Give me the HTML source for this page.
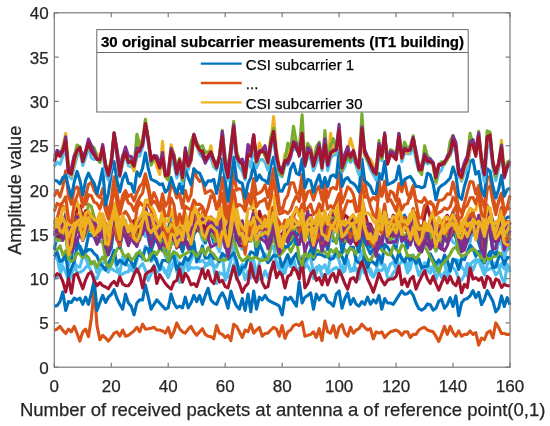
<!DOCTYPE html>
<html><head><meta charset="utf-8"><style>
html,body{margin:0;padding:0;background:#fff;}
svg{display:block;filter:blur(0.3px);}
text{font-family:"Liberation Sans",Arial,sans-serif;fill:#262626;stroke:#262626;stroke-width:0.25px;}
</style></head><body>
<svg width="550" height="426" viewBox="0 0 550 426">
<rect x="0" y="0" width="550" height="426" fill="#fff"/>
<g fill="none" stroke-width="3.10" stroke-linejoin="round" stroke-linecap="butt">
<polyline stroke="#D95319" points="54.3,330.4 57.1,329.1 60.0,326.4 62.8,330.4 65.7,333.5 68.5,329.1 71.4,331.8 74.2,326.4 77.1,333.5 79.9,341.1 82.8,331.8 85.6,329.1 88.5,336.6 91.3,318.5 94.2,289.2 97.0,325.6 99.9,339.7 102.7,335.3 105.6,338.0 108.4,341.1 111.3,337.5 114.1,333.1 117.0,331.8 119.8,336.2 122.7,330.0 125.5,336.2 128.4,335.3 131.2,333.1 134.0,330.9 136.9,327.3 139.7,331.8 142.6,324.2 145.4,329.1 148.3,328.7 151.1,328.2 154.0,327.3 156.8,330.0 159.7,330.0 162.5,330.9 165.4,333.1 168.2,327.3 171.1,337.5 173.9,331.8 176.8,322.9 179.6,328.7 182.5,331.8 185.3,333.1 188.2,329.1 191.0,326.4 193.9,331.8 196.7,335.3 199.6,331.8 202.4,328.7 205.3,334.4 208.1,336.2 210.9,336.6 213.8,338.8 216.6,325.6 219.5,333.1 222.3,334.4 225.2,337.5 228.0,335.3 230.9,340.6 233.7,324.2 236.6,326.4 239.4,331.8 242.3,337.5 245.1,330.0 248.0,331.8 250.8,324.2 253.7,333.1 256.5,330.0 259.4,327.3 262.2,336.2 265.1,333.5 267.9,333.1 270.8,330.0 273.6,327.3 276.5,329.1 279.3,336.2 282.1,325.6 285.0,338.4 287.8,331.8 290.7,330.0 293.5,325.6 296.4,324.2 299.2,325.6 302.1,322.0 304.9,336.2 307.8,335.3 310.6,334.4 313.5,331.8 316.3,337.5 319.2,328.7 322.0,340.6 324.9,321.1 327.7,331.8 330.6,333.1 333.4,325.6 336.3,337.5 339.1,327.3 342.0,324.7 344.8,333.1 347.7,336.2 350.5,327.3 353.4,333.1 356.2,330.0 359.0,328.7 361.9,324.2 364.7,327.3 367.6,330.0 370.4,328.7 373.3,338.8 376.1,331.8 379.0,333.1 381.8,331.8 384.7,337.5 387.5,334.4 390.4,331.8 393.2,330.9 396.1,330.0 398.9,331.8 401.8,335.3 404.6,331.8 407.5,331.8 410.3,337.5 413.2,334.4 416.0,334.4 418.9,330.0 421.7,328.2 424.6,327.3 427.4,330.0 430.3,330.9 433.1,331.8 435.9,336.2 438.8,341.5 441.6,334.4 444.5,326.4 447.3,334.4 450.2,326.4 453.0,332.6 455.9,336.2 458.7,330.9 461.6,336.2 464.4,334.4 467.3,334.4 470.1,330.9 473.0,334.4 475.8,332.6 478.7,345.1 481.5,338.0 484.4,339.7 487.2,332.6 490.1,330.9 492.9,338.0 495.8,322.9 498.6,327.3 501.5,333.5 504.3,333.5 507.2,334.4 510.0,334.4"/>
<polyline stroke="#0072BD" points="54.3,306.1 57.1,305.6 60.0,301.6 62.8,291.9 65.7,310.5 68.5,301.6 71.4,302.5 74.2,298.1 77.1,299.9 79.9,298.1 82.8,304.3 85.6,297.2 88.5,304.3 91.3,293.7 94.2,280.4 97.0,310.5 99.9,302.5 102.7,295.4 105.6,302.5 108.4,297.2 111.3,294.5 114.1,289.7 117.0,298.5 119.8,304.3 122.7,309.2 125.5,294.1 128.4,303.0 131.2,306.1 134.0,314.9 136.9,303.0 139.7,299.9 142.6,299.9 145.4,284.8 148.3,297.2 151.1,309.2 154.0,304.3 156.8,299.9 159.7,303.0 162.5,306.1 165.4,309.2 168.2,307.8 171.1,294.1 173.9,303.0 176.8,307.8 179.6,306.1 182.5,307.8 185.3,297.2 188.2,307.8 191.0,303.0 193.9,295.4 196.7,301.6 199.6,295.4 202.4,304.3 205.3,295.4 208.1,288.3 210.9,299.9 213.8,303.0 216.6,304.3 219.5,297.2 222.3,292.8 225.2,298.5 228.0,308.3 230.9,291.0 233.7,299.9 236.6,306.1 239.4,309.2 242.3,298.5 245.1,310.5 248.0,294.1 250.8,311.8 253.7,291.0 256.5,309.2 259.4,297.2 262.2,299.9 265.1,295.4 267.9,299.9 270.8,301.6 273.6,303.0 276.5,304.3 279.3,306.1 282.1,314.9 285.0,297.2 287.8,299.9 290.7,297.2 293.5,301.6 296.4,306.1 299.2,282.1 302.1,303.0 304.9,297.2 307.8,295.4 310.6,292.8 313.5,309.2 316.3,294.1 319.2,299.9 322.0,295.4 324.9,295.4 327.7,301.6 330.6,303.0 333.4,306.1 336.3,294.1 339.1,291.0 342.0,308.3 344.8,298.5 347.7,292.8 350.5,304.3 353.4,298.5 356.2,304.3 359.0,306.1 361.9,301.6 364.7,304.3 367.6,297.2 370.4,304.3 373.3,299.9 376.1,303.0 379.0,295.4 381.8,309.2 384.7,298.5 387.5,303.0 390.4,303.0 393.2,304.3 396.1,299.9 398.9,295.4 401.8,291.0 404.6,294.1 407.5,293.7 410.3,291.0 413.2,295.4 416.0,303.0 418.9,308.7 421.7,310.1 424.6,308.3 427.4,303.9 430.3,304.7 433.1,310.1 435.9,308.3 438.8,301.2 441.6,299.4 444.5,308.3 447.3,304.7 450.2,297.6 453.0,306.5 455.9,295.9 458.7,315.8 461.6,303.0 464.4,299.4 467.3,298.5 470.1,295.9 473.0,290.6 475.8,297.6 478.7,292.3 481.5,304.7 484.4,299.4 487.2,290.6 490.1,295.9 492.9,301.2 495.8,311.8 498.6,308.3 501.5,295.9 504.3,306.5 507.2,297.6 510.0,304.7"/>
<polyline stroke="#4DBEEE" points="54.3,278.8 57.1,277.3 60.0,274.4 62.8,266.2 65.7,272.2 68.5,281.2 71.4,276.1 74.2,264.4 77.1,272.7 79.9,272.3 82.8,270.7 85.6,267.5 88.5,264.8 91.3,272.3 94.2,277.0 97.0,278.7 99.9,270.6 102.7,268.0 105.6,270.1 108.4,272.2 111.3,262.7 114.1,259.1 117.0,267.8 119.8,274.9 122.7,274.0 125.5,272.1 128.4,271.9 131.2,263.2 134.0,272.3 136.9,272.2 139.7,267.0 142.6,263.5 145.4,269.8 148.3,280.5 151.1,273.7 154.0,265.2 156.8,272.8 159.7,269.6 162.5,267.0 165.4,271.2 168.2,277.7 171.1,269.4 173.9,260.9 176.8,271.2 179.6,282.5 182.5,268.7 185.3,256.4 188.2,270.6 191.0,267.4 193.9,268.3 196.7,267.5 199.6,268.5 202.4,270.9 205.3,265.8 208.1,264.8 210.9,263.5 213.8,267.4 216.6,283.5 219.5,272.6 222.3,274.0 225.2,276.2 228.0,277.1 230.9,275.0 233.7,264.6 236.6,277.3 239.4,274.3 242.3,268.6 245.1,279.6 248.0,271.3 250.8,278.0 253.7,266.6 256.5,281.8 259.4,278.5 262.2,279.0 265.1,270.8 267.9,277.3 270.8,270.6 273.6,262.0 276.5,263.5 279.3,269.3 282.1,273.2 285.0,262.4 287.8,264.5 290.7,266.8 293.5,257.3 296.4,271.3 299.2,269.8 302.1,256.2 304.9,265.8 307.8,265.8 310.6,271.3 313.5,278.4 316.3,272.3 319.2,265.6 322.0,276.3 324.9,275.5 327.7,272.8 330.6,255.9 333.4,257.9 336.3,254.7 339.1,260.2 342.0,273.2 344.8,270.8 347.7,259.4 350.5,271.4 353.4,268.0 356.2,268.3 359.0,279.2 361.9,267.5 364.7,273.4 367.6,270.6 370.4,269.0 373.3,276.3 376.1,272.8 379.0,270.0 381.8,270.6 384.7,266.1 387.5,277.5 390.4,278.5 393.2,272.9 396.1,269.7 398.9,251.5 401.8,258.5 404.6,259.3 407.5,267.5 410.3,258.8 413.2,256.5 416.0,263.9 418.9,262.8 421.7,267.5 424.6,265.5 427.4,270.5 430.3,273.2 433.1,265.9 435.9,279.5 438.8,271.8 441.6,277.3 444.5,272.2 447.3,273.9 450.2,264.9 453.0,267.6 455.9,270.9 458.7,279.3 461.6,280.2 464.4,275.1 467.3,263.4 470.1,264.9 473.0,270.1 475.8,262.7 478.7,260.5 481.5,264.2 484.4,268.4 487.2,270.2 490.1,268.6 492.9,268.7 495.8,262.5 498.6,265.3 501.5,277.1 504.3,283.5 507.2,265.3 510.0,268.7"/>
<polyline stroke="#4DBEEE" points="54.3,258.5 57.1,257.6 60.0,270.9 62.8,259.7 65.7,259.4 68.5,265.9 71.4,257.6 74.2,262.8 77.1,266.3 79.9,267.3 82.8,256.5 85.6,258.2 88.5,265.1 91.3,261.8 94.2,262.9 97.0,272.7 99.9,264.5 102.7,263.2 105.6,261.6 108.4,270.4 111.3,268.3 114.1,270.6 117.0,271.8 119.8,273.3 122.7,256.6 125.5,262.4 128.4,265.8 131.2,270.1 134.0,270.5 136.9,260.5 139.7,250.6 142.6,259.6 145.4,246.2 148.3,250.1 151.1,261.3 154.0,258.7 156.8,259.1 159.7,270.2 162.5,267.2 165.4,273.0 168.2,269.7 171.1,257.0 173.9,251.3 176.8,260.8 179.6,263.0 182.5,278.2 185.3,258.7 188.2,267.2 191.0,260.5 193.9,252.6 196.7,252.9 199.6,261.8 202.4,260.3 205.3,263.6 208.1,263.5 210.9,257.9 213.8,265.0 216.6,267.0 219.5,259.6 222.3,255.2 225.2,280.2 228.0,271.7 230.9,260.2 233.7,245.6 236.6,279.6 239.4,267.9 242.3,264.5 245.1,269.0 248.0,256.6 250.8,261.4 253.7,260.4 256.5,275.7 259.4,262.5 262.2,257.6 265.1,254.0 267.9,260.7 270.8,248.8 273.6,245.9 276.5,263.5 279.3,262.8 282.1,274.4 285.0,272.9 287.8,261.3 290.7,259.0 293.5,261.5 296.4,268.3 299.2,271.1 302.1,259.1 304.9,267.6 307.8,257.7 310.6,258.1 313.5,271.7 316.3,267.5 319.2,266.0 322.0,268.5 324.9,264.8 327.7,273.7 330.6,271.4 333.4,269.0 336.3,267.5 339.1,270.1 342.0,271.2 344.8,260.1 347.7,261.0 350.5,269.4 353.4,270.9 356.2,257.3 359.0,260.0 361.9,250.8 364.7,262.3 367.6,266.1 370.4,274.1 373.3,277.1 376.1,270.6 379.0,260.3 381.8,265.1 384.7,264.8 387.5,272.5 390.4,264.0 393.2,262.3 396.1,268.2 398.9,265.3 401.8,261.4 404.6,262.0 407.5,272.9 410.3,268.6 413.2,254.9 416.0,265.1 418.9,275.5 421.7,269.1 424.6,262.7 427.4,263.7 430.3,268.3 433.1,269.6 435.9,271.0 438.8,264.6 441.6,264.3 444.5,261.7 447.3,276.6 450.2,270.9 453.0,261.1 455.9,259.5 458.7,260.5 461.6,266.9 464.4,270.2 467.3,276.4 470.1,264.3 473.0,261.6 475.8,259.4 478.7,260.1 481.5,267.7 484.4,274.9 487.2,264.9 490.1,259.6 492.9,268.6 495.8,274.9 498.6,271.7 501.5,263.5 504.3,268.9 507.2,264.4 510.0,272.2"/>
<polyline stroke="#0072BD" points="54.3,256.4 57.1,252.0 60.0,261.4 62.8,260.1 65.7,253.1 68.5,276.2 71.4,268.1 74.2,262.1 77.1,246.1 79.9,246.1 82.8,252.8 85.6,252.0 88.5,249.5 91.3,249.7 94.2,253.6 97.0,256.0 99.9,263.6 102.7,266.1 105.6,270.0 108.4,262.7 111.3,257.8 114.1,250.4 117.0,264.6 119.8,260.1 122.7,262.7 125.5,264.9 128.4,257.1 131.2,262.1 134.0,267.2 136.9,255.7 139.7,254.9 142.6,257.2 145.4,248.1 148.3,249.0 151.1,259.7 154.0,254.8 156.8,262.4 159.7,269.0 162.5,260.5 165.4,260.4 168.2,261.8 171.1,257.6 173.9,256.3 176.8,269.6 179.6,263.7 182.5,264.3 185.3,257.5 188.2,260.3 191.0,255.8 193.9,241.6 196.7,262.0 199.6,256.7 202.4,245.9 205.3,258.2 208.1,258.0 210.9,253.2 213.8,258.5 216.6,258.7 219.5,261.7 222.3,253.3 225.2,256.2 228.0,259.1 230.9,256.0 233.7,253.0 236.6,260.3 239.4,274.1 242.3,267.2 245.1,266.7 248.0,257.8 250.8,251.8 253.7,253.2 256.5,257.2 259.4,243.4 262.2,250.2 265.1,257.9 267.9,262.7 270.8,259.5 273.6,255.3 276.5,255.7 279.3,256.4 282.1,266.7 285.0,260.9 287.8,254.7 290.7,263.7 293.5,257.7 296.4,253.4 299.2,263.8 302.1,264.0 304.9,260.0 307.8,257.0 310.6,249.6 313.5,259.3 316.3,254.5 319.2,254.0 322.0,254.9 324.9,256.8 327.7,256.6 330.6,259.4 333.4,258.4 336.3,250.6 339.1,252.5 342.0,256.7 344.8,263.4 347.7,251.5 350.5,247.4 353.4,247.4 356.2,260.6 359.0,263.1 361.9,262.9 364.7,255.3 367.6,267.6 370.4,260.3 373.3,262.4 376.1,265.0 379.0,255.1 381.8,262.8 384.7,244.4 387.5,247.0 390.4,251.8 393.2,257.6 396.1,262.7 398.9,252.3 401.8,258.9 404.6,261.9 407.5,255.4 410.3,260.1 413.2,257.4 416.0,263.1 418.9,259.0 421.7,267.8 424.6,266.6 427.4,266.3 430.3,253.8 433.1,259.2 435.9,264.3 438.8,259.8 441.6,264.2 444.5,255.0 447.3,260.4 450.2,271.0 453.0,259.1 455.9,260.9 458.7,269.4 461.6,258.7 464.4,259.6 467.3,252.3 470.1,245.1 473.0,248.4 475.8,256.3 478.7,251.5 481.5,259.2 484.4,263.0 487.2,257.3 490.1,251.7 492.9,267.4 495.8,267.2 498.6,257.6 501.5,254.7 504.3,264.3 507.2,257.3 510.0,257.9"/>
<polyline stroke="#A2142F" points="54.3,276.8 57.1,273.7 60.0,275.1 62.8,281.3 65.7,291.9 68.5,278.2 71.4,293.2 74.2,275.1 77.1,273.7 79.9,281.3 82.8,288.8 85.6,279.9 88.5,273.7 91.3,272.0 94.2,280.4 97.0,285.7 99.9,282.6 102.7,285.7 105.6,287.0 108.4,288.8 111.3,283.9 114.1,281.3 117.0,285.7 119.8,276.8 122.7,283.9 125.5,285.7 128.4,285.7 131.2,282.1 134.0,274.6 136.9,268.9 139.7,274.6 142.6,287.9 145.4,274.6 148.3,272.0 151.1,270.6 154.0,266.2 156.8,283.5 159.7,274.6 162.5,279.0 165.4,283.5 168.2,286.6 171.1,289.2 173.9,282.1 176.8,280.4 179.6,268.9 182.5,282.1 185.3,273.3 188.2,277.7 191.0,284.8 193.9,283.5 196.7,286.6 199.6,277.7 202.4,268.9 205.3,278.6 208.1,270.6 210.9,280.4 213.8,283.5 216.6,272.0 219.5,282.1 222.3,280.4 225.2,286.6 228.0,287.9 230.9,276.4 233.7,266.2 236.6,277.7 239.4,283.5 242.3,292.3 245.1,286.6 248.0,283.5 250.8,263.1 253.7,276.4 256.5,282.1 259.4,266.2 262.2,282.1 265.1,287.9 267.9,286.6 270.8,272.0 273.6,261.8 276.5,277.7 279.3,272.0 282.1,275.1 285.0,287.9 287.8,276.4 290.7,274.6 293.5,267.5 296.4,270.6 299.2,279.0 302.1,258.7 304.9,287.9 307.8,283.5 310.6,274.6 313.5,270.6 316.3,280.4 319.2,277.7 322.0,284.8 324.9,274.6 327.7,284.8 330.6,276.4 333.4,273.3 336.3,282.1 339.1,270.6 342.0,276.4 344.8,283.5 347.7,289.2 350.5,279.0 353.4,277.7 356.2,282.1 359.0,269.7 361.9,261.8 364.7,268.9 367.6,279.0 370.4,284.8 373.3,292.3 376.1,283.5 379.0,273.3 381.8,280.4 384.7,284.8 387.5,280.4 390.4,279.0 393.2,279.0 396.1,276.4 398.9,266.2 401.8,284.8 404.6,279.0 407.5,286.6 410.3,279.0 413.2,276.4 416.0,289.2 418.9,282.1 421.7,276.4 424.6,270.6 427.4,279.0 430.3,283.5 433.1,276.4 435.9,283.5 438.8,290.1 441.6,283.0 444.5,276.4 447.3,283.0 450.2,276.4 453.0,283.0 455.9,285.7 458.7,277.7 461.6,292.8 464.4,284.4 467.3,287.5 470.1,268.0 473.0,279.0 475.8,277.7 478.7,280.4 481.5,277.7 484.4,287.5 487.2,276.4 490.1,279.0 492.9,287.5 495.8,279.0 498.6,280.4 501.5,287.5 504.3,284.4 507.2,285.7 510.0,285.7"/>
<polyline stroke="#77AC30" points="54.3,249.4 57.1,249.8 60.0,245.8 62.8,254.9 65.7,250.9 68.5,253.8 71.4,261.3 74.2,259.2 77.1,253.1 79.9,253.9 82.8,257.7 85.6,254.4 88.5,257.7 91.3,264.2 94.2,261.4 97.0,267.1 99.9,261.6 102.7,257.1 105.6,261.1 108.4,267.4 111.3,264.8 114.1,256.1 117.0,249.2 119.8,246.1 122.7,253.3 125.5,257.1 128.4,254.1 131.2,259.8 134.0,258.2 136.9,253.1 139.7,252.0 142.6,255.7 145.4,260.7 148.3,260.2 151.1,253.8 154.0,251.6 156.8,254.4 159.7,248.7 162.5,250.7 165.4,254.2 168.2,261.1 171.1,254.9 173.9,252.3 176.8,253.5 179.6,257.7 182.5,255.2 185.3,254.0 188.2,252.1 191.0,249.5 193.9,252.6 196.7,256.3 199.6,252.5 202.4,248.7 205.3,254.4 208.1,247.5 210.9,251.8 213.8,254.4 216.6,258.9 219.5,260.0 222.3,260.0 225.2,260.3 228.0,256.1 230.9,246.3 233.7,236.9 236.6,249.5 239.4,257.1 242.3,260.8 245.1,259.5 248.0,256.1 250.8,258.9 253.7,257.8 256.5,256.8 259.4,259.8 262.2,260.6 265.1,259.5 267.9,259.6 270.8,244.6 273.6,237.1 276.5,248.3 279.3,255.7 282.1,252.9 285.0,249.1 287.8,245.3 290.7,252.1 293.5,245.8 296.4,238.2 299.2,257.8 302.1,265.4 304.9,251.4 307.8,257.1 310.6,253.6 313.5,257.4 316.3,249.9 319.2,251.4 322.0,252.4 324.9,251.2 327.7,256.3 330.6,249.5 333.4,252.5 336.3,248.7 339.1,257.1 342.0,253.3 344.8,249.5 347.7,253.3 350.5,248.3 353.4,250.2 356.2,254.0 359.0,246.9 361.9,240.9 364.7,254.1 367.6,259.5 370.4,260.6 373.3,254.9 376.1,251.2 379.0,245.7 381.8,250.6 384.7,251.6 387.5,254.4 390.4,255.0 393.2,246.2 396.1,249.3 398.9,252.5 401.8,245.1 404.6,246.2 407.5,255.9 410.3,255.6 413.2,255.8 416.0,258.6 418.9,254.7 421.7,249.7 424.6,246.7 427.4,251.0 430.3,257.4 433.1,262.5 435.9,266.9 438.8,272.4 441.6,265.0 444.5,261.9 447.3,258.7 450.2,254.1 453.0,249.0 455.9,246.9 458.7,252.5 461.6,256.2 464.4,255.3 467.3,253.4 470.1,250.6 473.0,248.6 475.8,250.7 478.7,254.7 481.5,258.4 484.4,256.2 487.2,258.3 490.1,259.5 492.9,256.9 495.8,256.2 498.6,252.5 501.5,254.3 504.3,251.7 507.2,249.4 510.0,248.0"/>
<polyline stroke="#0072BD" points="54.3,249.6 57.1,235.6 60.0,236.6 62.8,230.8 65.7,234.3 68.5,254.9 71.4,258.0 74.2,242.6 77.1,239.9 79.9,249.2 82.8,254.5 85.6,249.8 88.5,235.1 91.3,235.8 94.2,235.6 97.0,233.3 99.9,231.7 102.7,228.4 105.6,242.0 108.4,254.0 111.3,248.1 114.1,226.8 117.0,234.6 119.8,247.7 122.7,232.6 125.5,224.0 128.4,232.2 131.2,232.1 134.0,233.0 136.9,227.0 139.7,231.8 142.6,232.3 145.4,224.7 148.3,238.5 151.1,250.8 154.0,241.9 156.8,240.5 159.7,245.6 162.5,249.1 165.4,251.5 168.2,244.0 171.1,223.2 173.9,234.9 176.8,241.7 179.6,243.7 182.5,251.2 185.3,239.7 188.2,247.6 191.0,249.0 193.9,234.7 196.7,229.7 199.6,227.1 202.4,229.2 205.3,236.5 208.1,231.2 210.9,233.1 213.8,242.7 216.6,240.1 219.5,239.2 222.3,228.5 225.2,240.6 228.0,246.1 230.9,233.3 233.7,225.7 236.6,240.7 239.4,237.2 242.3,239.6 245.1,238.4 248.0,224.2 250.8,228.0 253.7,230.0 256.5,255.2 259.4,240.5 262.2,234.9 265.1,236.9 267.9,234.2 270.8,227.1 273.6,225.1 276.5,230.4 279.3,243.9 282.1,242.0 285.0,247.2 287.8,246.3 290.7,243.3 293.5,236.8 296.4,244.3 299.2,244.4 302.1,230.3 304.9,240.4 307.8,230.6 310.6,244.9 313.5,253.9 316.3,242.2 319.2,224.4 322.0,243.1 324.9,241.6 327.7,249.6 330.6,237.5 333.4,240.9 336.3,242.2 339.1,230.2 342.0,252.6 344.8,241.7 347.7,235.7 350.5,235.3 353.4,233.2 356.2,243.5 359.0,251.9 361.9,232.1 364.7,242.3 367.6,247.5 370.4,253.8 373.3,248.9 376.1,250.7 379.0,248.0 381.8,245.9 384.7,225.0 387.5,240.4 390.4,242.4 393.2,241.4 396.1,247.6 398.9,232.2 401.8,234.1 404.6,238.2 407.5,248.0 410.3,237.0 413.2,231.3 416.0,244.9 418.9,247.0 421.7,242.0 424.6,227.5 427.4,244.7 430.3,245.2 433.1,239.6 435.9,250.0 438.8,245.4 441.6,233.6 444.5,237.8 447.3,238.2 450.2,238.8 453.0,232.5 455.9,237.1 458.7,250.5 461.6,249.9 464.4,239.9 467.3,241.1 470.1,237.7 473.0,232.6 475.8,236.2 478.7,242.7 481.5,251.3 484.4,249.1 487.2,224.6 490.1,231.7 492.9,252.8 495.8,254.2 498.6,239.5 501.5,230.2 504.3,253.8 507.2,246.0 510.0,238.0"/>
<polyline stroke="#4DBEEE" points="54.3,240.4 57.1,241.1 60.0,239.4 62.8,235.6 65.7,229.5 68.5,244.1 71.4,244.0 74.2,240.7 77.1,224.5 79.9,224.8 82.8,239.1 85.6,236.1 88.5,231.7 91.3,230.3 94.2,237.7 97.0,243.1 99.9,240.5 102.7,228.3 105.6,230.9 108.4,236.3 111.3,239.5 114.1,223.0 117.0,235.2 119.8,243.4 122.7,227.3 125.5,227.2 128.4,236.3 131.2,237.3 134.0,232.1 136.9,222.5 139.7,230.2 142.6,232.3 145.4,236.3 148.3,237.1 151.1,240.6 154.0,235.1 156.8,235.1 159.7,240.8 162.5,238.8 165.4,256.4 168.2,253.5 171.1,242.5 173.9,243.8 176.8,237.1 179.6,234.2 182.5,242.5 185.3,218.2 188.2,230.1 191.0,221.4 193.9,216.8 196.7,222.9 199.6,230.6 202.4,239.9 205.3,243.6 208.1,232.3 210.9,226.8 213.8,238.8 216.6,245.9 219.5,251.7 222.3,236.8 225.2,245.6 228.0,245.8 230.9,229.5 233.7,219.3 236.6,235.9 239.4,245.6 242.3,249.4 245.1,247.6 248.0,234.1 250.8,239.1 253.7,217.0 256.5,233.2 259.4,236.9 262.2,230.9 265.1,230.6 267.9,239.3 270.8,236.8 273.6,228.7 276.5,236.1 279.3,242.5 282.1,240.1 285.0,241.2 287.8,237.6 290.7,228.6 293.5,225.6 296.4,229.6 299.2,229.3 302.1,216.4 304.9,238.1 307.8,225.8 310.6,226.4 313.5,245.1 316.3,240.9 319.2,234.8 322.0,251.5 324.9,234.3 327.7,244.0 330.6,240.9 333.4,233.1 336.3,227.8 339.1,223.1 342.0,241.0 344.8,232.5 347.7,230.3 350.5,227.9 353.4,224.3 356.2,232.5 359.0,234.1 361.9,209.8 364.7,230.9 367.6,238.3 370.4,248.4 373.3,241.2 376.1,245.1 379.0,239.2 381.8,242.8 384.7,229.2 387.5,242.4 390.4,233.0 393.2,234.7 396.1,243.6 398.9,230.3 401.8,242.4 404.6,237.3 407.5,234.7 410.3,231.1 413.2,224.8 416.0,229.2 418.9,248.6 421.7,250.9 424.6,242.5 427.4,237.7 430.3,226.3 433.1,233.5 435.9,251.2 438.8,242.2 441.6,238.3 444.5,240.6 447.3,242.1 450.2,237.5 453.0,242.3 455.9,244.2 458.7,242.3 461.6,241.9 464.4,237.7 467.3,241.0 470.1,242.6 473.0,223.7 475.8,227.2 478.7,223.5 481.5,236.9 484.4,245.1 487.2,219.8 490.1,221.2 492.9,244.2 495.8,249.3 498.6,244.0 501.5,241.6 504.3,257.7 507.2,247.9 510.0,238.9"/>
<polyline stroke="#A2142F" points="54.3,230.1 57.1,233.2 60.0,239.6 62.8,232.5 65.7,223.4 68.5,245.7 71.4,237.3 74.2,233.0 77.1,232.2 79.9,230.5 82.8,233.9 85.6,234.9 88.5,230.2 91.3,223.3 94.2,223.0 97.0,228.1 99.9,229.1 102.7,218.5 105.6,234.0 108.4,250.2 111.3,239.1 114.1,224.6 117.0,231.7 119.8,234.1 122.7,232.9 125.5,235.7 128.4,236.1 131.2,225.6 134.0,220.6 136.9,229.5 139.7,234.7 142.6,231.2 145.4,217.6 148.3,214.5 151.1,225.2 154.0,230.3 156.8,232.3 159.7,239.6 162.5,231.0 165.4,236.9 168.2,234.4 171.1,232.6 173.9,239.8 176.8,247.0 179.6,246.0 182.5,249.1 185.3,225.3 188.2,233.3 191.0,231.4 193.9,225.0 196.7,228.9 199.6,231.6 202.4,222.7 205.3,231.3 208.1,237.9 210.9,232.6 213.8,236.7 216.6,227.4 219.5,218.5 222.3,215.4 225.2,227.5 228.0,238.3 230.9,231.1 233.7,206.4 236.6,229.7 239.4,245.2 242.3,245.9 245.1,242.2 248.0,233.1 250.8,229.5 253.7,210.3 256.5,221.3 259.4,220.8 262.2,224.3 265.1,229.8 267.9,235.0 270.8,222.1 273.6,214.7 276.5,228.1 279.3,249.8 282.1,243.6 285.0,233.6 287.8,234.6 290.7,232.5 293.5,231.5 296.4,236.5 299.2,233.4 302.1,227.0 304.9,240.2 307.8,225.3 310.6,230.4 313.5,238.7 316.3,229.4 319.2,216.4 322.0,228.1 324.9,229.3 327.7,231.1 330.6,225.2 333.4,223.6 336.3,223.6 339.1,208.1 342.0,222.7 344.8,215.0 347.7,217.4 350.5,231.0 353.4,234.7 356.2,245.1 359.0,241.1 361.9,219.7 364.7,231.8 367.6,228.0 370.4,234.9 373.3,239.7 376.1,232.4 379.0,217.9 381.8,227.6 384.7,219.1 387.5,234.9 390.4,236.1 393.2,224.9 396.1,222.1 398.9,219.1 401.8,229.1 404.6,225.5 407.5,232.6 410.3,237.0 413.2,226.2 416.0,226.0 418.9,235.8 421.7,240.7 424.6,223.6 427.4,227.8 430.3,231.1 433.1,231.3 435.9,238.3 438.8,226.7 441.6,234.7 444.5,238.2 447.3,237.4 450.2,228.0 453.0,227.0 455.9,227.5 458.7,241.1 461.6,248.8 464.4,239.2 467.3,230.9 470.1,222.4 473.0,226.9 475.8,232.1 478.7,225.8 481.5,240.2 484.4,251.7 487.2,221.3 490.1,210.7 492.9,221.8 495.8,231.3 498.6,240.7 501.5,224.6 504.3,234.0 507.2,243.7 510.0,245.2"/>
<polyline stroke="#77AC30" points="54.3,222.0 57.1,220.4 60.0,224.2 62.8,221.8 65.7,215.5 68.5,232.5 71.4,236.0 74.2,224.6 77.1,225.3 79.9,224.2 82.8,232.6 85.6,224.0 88.5,204.1 91.3,206.4 94.2,217.1 97.0,229.8 99.9,225.8 102.7,217.4 105.6,224.7 108.4,225.6 111.3,222.9 114.1,219.0 117.0,227.6 119.8,237.5 122.7,233.0 125.5,234.2 128.4,235.5 131.2,229.8 134.0,238.1 136.9,228.0 139.7,227.8 142.6,226.9 145.4,217.8 148.3,229.9 151.1,240.2 154.0,237.2 156.8,234.5 159.7,234.3 162.5,228.9 165.4,234.4 168.2,234.0 171.1,224.7 173.9,226.0 176.8,240.3 179.6,231.8 182.5,240.1 185.3,233.5 188.2,236.3 191.0,226.9 193.9,211.9 196.7,210.6 199.6,216.2 202.4,216.7 205.3,218.5 208.1,225.9 210.9,217.4 213.8,219.4 216.6,235.4 219.5,236.4 222.3,216.1 225.2,228.1 228.0,235.8 230.9,223.3 233.7,208.9 236.6,221.9 239.4,228.4 242.3,234.9 245.1,242.8 248.0,231.2 250.8,228.7 253.7,215.2 256.5,220.5 259.4,214.0 262.2,222.8 265.1,226.9 267.9,240.2 270.8,231.2 273.6,214.0 276.5,222.9 279.3,227.6 282.1,226.1 285.0,225.6 287.8,234.2 290.7,240.1 293.5,233.6 296.4,225.1 299.2,230.7 302.1,220.3 304.9,228.8 307.8,224.3 310.6,223.9 313.5,234.9 316.3,227.0 319.2,218.7 322.0,233.6 324.9,229.0 327.7,240.9 330.6,230.6 333.4,237.1 336.3,243.3 339.1,226.5 342.0,232.5 344.8,227.2 347.7,224.4 350.5,227.0 353.4,227.3 356.2,232.1 359.0,230.5 361.9,209.7 364.7,230.3 367.6,234.5 370.4,233.1 373.3,236.5 376.1,235.1 379.0,226.6 381.8,224.6 384.7,219.4 387.5,231.6 390.4,221.1 393.2,232.9 396.1,234.0 398.9,222.1 401.8,233.6 404.6,226.4 407.5,229.9 410.3,230.0 413.2,221.7 416.0,226.6 418.9,225.0 421.7,226.1 424.6,228.8 427.4,241.7 430.3,239.0 433.1,230.9 435.9,228.4 438.8,228.1 441.6,231.5 444.5,240.5 447.3,235.7 450.2,231.4 453.0,229.8 455.9,232.2 458.7,236.1 461.6,235.1 464.4,231.0 467.3,230.2 470.1,223.1 473.0,213.1 475.8,221.6 478.7,220.0 481.5,233.7 484.4,237.6 487.2,223.7 490.1,222.6 492.9,233.2 495.8,242.2 498.6,227.5 501.5,217.2 504.3,242.2 507.2,242.2 510.0,237.7"/>
<polyline stroke="#0072BD" points="54.3,232.9 57.1,229.0 60.0,227.1 62.8,224.2 65.7,218.8 68.5,234.6 71.4,237.1 74.2,228.0 77.1,226.2 79.9,225.6 82.8,233.8 85.6,231.3 88.5,234.3 91.3,235.0 94.2,235.5 97.0,230.7 99.9,235.0 102.7,232.9 105.6,244.5 108.4,238.1 111.3,225.9 114.1,221.7 117.0,231.3 119.8,235.2 122.7,230.1 125.5,227.6 128.4,226.9 131.2,236.2 134.0,242.6 136.9,231.3 139.7,224.0 142.6,221.8 145.4,215.2 148.3,227.3 151.1,242.4 154.0,227.3 156.8,224.4 159.7,233.0 162.5,241.7 165.4,244.0 168.2,231.3 171.1,213.1 173.9,217.1 176.8,233.1 179.6,235.1 182.5,251.8 185.3,236.2 188.2,231.5 191.0,234.1 193.9,216.0 196.7,213.2 199.6,219.1 202.4,229.0 205.3,242.6 208.1,235.6 210.9,227.1 213.8,238.9 216.6,230.1 219.5,214.7 222.3,213.2 225.2,224.8 228.0,235.4 230.9,229.2 233.7,215.4 236.6,231.9 239.4,229.2 242.3,231.5 245.1,240.4 248.0,236.8 250.8,231.6 253.7,217.1 256.5,226.4 259.4,222.2 262.2,221.4 265.1,226.9 267.9,228.8 270.8,219.2 273.6,210.1 276.5,233.3 279.3,243.0 282.1,239.7 285.0,228.5 287.8,223.0 290.7,225.8 293.5,229.7 296.4,234.0 299.2,233.5 302.1,213.3 304.9,231.9 307.8,226.7 310.6,225.6 313.5,234.2 316.3,230.8 319.2,223.7 322.0,237.2 324.9,221.0 327.7,221.2 330.6,225.6 333.4,227.5 336.3,229.8 339.1,210.6 342.0,228.4 344.8,233.0 347.7,236.1 350.5,236.6 353.4,225.9 356.2,231.8 359.0,229.6 361.9,208.2 364.7,229.2 367.6,241.0 370.4,247.0 373.3,236.9 376.1,229.4 379.0,216.1 381.8,225.8 384.7,217.5 387.5,230.2 390.4,227.6 393.2,226.9 396.1,225.1 398.9,221.3 401.8,222.2 404.6,215.2 407.5,220.3 410.3,236.3 413.2,229.0 416.0,229.0 418.9,242.1 421.7,239.3 424.6,233.9 427.4,238.3 430.3,230.9 433.1,225.2 435.9,240.0 438.8,231.7 441.6,228.6 444.5,235.5 447.3,233.2 450.2,231.0 453.0,223.5 455.9,233.4 458.7,243.5 461.6,238.3 464.4,238.4 467.3,235.3 470.1,227.0 473.0,224.7 475.8,231.8 478.7,218.6 481.5,230.3 484.4,235.8 487.2,220.6 490.1,219.9 492.9,220.8 495.8,228.5 498.6,225.7 501.5,215.4 504.3,220.2 507.2,217.4 510.0,216.9"/>
<polyline stroke="#A2142F" points="54.3,224.7 57.1,222.2 60.0,225.7 62.8,223.3 65.7,222.6 68.5,231.8 71.4,235.7 74.2,225.6 77.1,208.7 79.9,206.0 82.8,218.8 85.6,210.8 88.5,211.7 91.3,218.5 94.2,225.6 97.0,231.6 99.9,237.6 102.7,232.7 105.6,232.5 108.4,232.5 111.3,227.3 114.1,216.0 117.0,227.0 119.8,242.1 122.7,234.3 125.5,225.2 128.4,232.7 131.2,237.8 134.0,236.8 136.9,232.5 139.7,228.9 142.6,219.1 145.4,211.1 148.3,219.9 151.1,226.4 154.0,229.3 156.8,229.1 159.7,228.2 162.5,233.8 165.4,241.4 168.2,239.7 171.1,235.0 173.9,234.4 176.8,231.1 179.6,220.1 182.5,237.3 185.3,229.3 188.2,225.2 191.0,224.2 193.9,213.5 196.7,215.5 199.6,215.4 202.4,220.2 205.3,230.8 208.1,223.4 210.9,218.3 213.8,231.4 216.6,240.2 219.5,230.9 222.3,223.3 225.2,238.4 228.0,235.6 230.9,223.1 233.7,213.5 236.6,226.0 239.4,226.4 242.3,229.7 245.1,232.5 248.0,223.5 250.8,222.1 253.7,217.2 256.5,228.8 259.4,211.4 262.2,220.5 265.1,228.7 267.9,226.2 270.8,210.3 273.6,218.5 276.5,230.8 279.3,234.5 282.1,234.1 285.0,229.4 287.8,224.8 290.7,217.3 293.5,221.6 296.4,222.0 299.2,230.7 302.1,218.0 304.9,234.0 307.8,219.8 310.6,215.3 313.5,225.5 316.3,219.7 319.2,220.5 322.0,227.7 324.9,217.1 327.7,220.3 330.6,213.9 333.4,215.8 336.3,211.8 339.1,204.2 342.0,227.9 344.8,230.2 347.7,228.3 350.5,224.8 353.4,218.4 356.2,220.2 359.0,225.5 361.9,198.6 364.7,211.9 367.6,223.3 370.4,224.2 373.3,230.9 376.1,240.6 379.0,226.2 381.8,225.1 384.7,219.6 387.5,234.5 390.4,224.8 393.2,215.3 396.1,223.0 398.9,226.6 401.8,234.7 404.6,223.6 407.5,222.5 410.3,223.7 413.2,211.7 416.0,221.2 418.9,233.9 421.7,235.2 424.6,215.9 427.4,206.3 430.3,217.5 433.1,227.7 435.9,238.7 438.8,230.4 441.6,223.0 444.5,218.9 447.3,215.3 450.2,221.3 453.0,226.2 455.9,227.9 458.7,236.9 461.6,248.8 464.4,238.9 467.3,223.7 470.1,217.9 473.0,223.5 475.8,234.7 478.7,218.5 481.5,229.0 484.4,233.1 487.2,217.4 490.1,222.3 492.9,238.9 495.8,241.7 498.6,236.5 501.5,223.5 504.3,240.5 507.2,234.3 510.0,222.2"/>
<polyline stroke="#77AC30" points="54.3,239.9 57.1,239.4 60.0,240.4 62.8,239.9 65.7,233.3 68.5,259.1 71.4,252.1 74.2,235.5 77.1,230.5 79.9,227.5 82.8,233.0 85.6,234.5 88.5,228.0 91.3,229.4 94.2,235.3 97.0,238.3 99.9,241.6 102.7,241.9 105.6,258.5 108.4,251.1 111.3,232.5 114.1,220.1 117.0,228.0 119.8,242.2 122.7,225.2 125.5,220.6 128.4,239.9 131.2,240.4 134.0,237.8 136.9,234.3 139.7,240.1 142.6,231.7 145.4,218.8 148.3,227.6 151.1,235.4 154.0,224.1 156.8,232.1 159.7,242.1 162.5,241.7 165.4,254.2 168.2,255.6 171.1,244.1 173.9,241.5 176.8,239.0 179.6,225.9 182.5,235.1 185.3,220.5 188.2,234.8 191.0,234.9 193.9,222.8 196.7,227.1 199.6,229.1 202.4,236.7 205.3,240.3 208.1,234.6 210.9,233.7 213.8,237.6 216.6,242.2 219.5,244.8 222.3,228.3 225.2,236.8 228.0,248.1 230.9,235.6 233.7,226.4 236.6,237.2 239.4,235.6 242.3,232.9 245.1,235.7 248.0,226.1 250.8,241.4 253.7,235.7 256.5,246.5 259.4,239.3 262.2,233.5 265.1,231.9 267.9,239.2 270.8,237.2 273.6,234.0 276.5,240.8 279.3,234.9 282.1,241.1 285.0,240.7 287.8,239.4 290.7,234.1 293.5,230.1 296.4,225.5 299.2,230.0 302.1,224.7 304.9,238.3 307.8,232.8 310.6,237.9 313.5,245.9 316.3,236.9 319.2,236.9 322.0,236.8 324.9,218.1 327.7,228.5 330.6,219.2 333.4,217.8 336.3,225.6 339.1,212.6 342.0,233.3 344.8,241.0 347.7,241.6 350.5,239.3 353.4,240.2 356.2,235.7 359.0,231.7 361.9,212.6 364.7,230.2 367.6,235.1 370.4,236.3 373.3,237.1 376.1,235.9 379.0,228.6 381.8,233.3 384.7,221.0 387.5,242.2 390.4,239.3 393.2,237.2 396.1,236.9 398.9,221.2 401.8,233.1 404.6,235.7 407.5,233.7 410.3,225.6 413.2,220.3 416.0,228.9 418.9,243.1 421.7,239.0 424.6,235.8 427.4,232.8 430.3,236.5 433.1,244.7 435.9,250.4 438.8,243.4 441.6,241.2 444.5,238.4 447.3,235.0 450.2,231.4 453.0,229.0 455.9,231.0 458.7,252.3 461.6,243.8 464.4,233.8 467.3,232.0 470.1,232.3 473.0,230.6 475.8,236.6 478.7,225.3 481.5,245.6 484.4,262.0 487.2,234.7 490.1,226.7 492.9,234.8 495.8,239.4 498.6,234.5 501.5,229.5 504.3,242.7 507.2,234.1 510.0,227.0"/>
<polyline stroke="#7E2F8E" points="54.3,235.5 57.1,228.0 60.0,233.4 62.8,233.0 65.7,229.3 68.5,240.1 71.4,252.2 74.2,246.9 77.1,240.7 79.9,233.6 82.8,240.5 85.6,231.3 88.5,217.8 91.3,225.3 94.2,234.7 97.0,240.8 99.9,236.4 102.7,233.1 105.6,246.8 108.4,255.0 111.3,240.4 114.1,225.0 117.0,239.7 119.8,243.5 122.7,231.1 125.5,237.6 128.4,245.7 131.2,237.3 134.0,241.8 136.9,239.9 139.7,234.4 142.6,234.0 145.4,224.2 148.3,235.3 151.1,247.0 154.0,236.1 156.8,240.1 159.7,248.5 162.5,243.4 165.4,245.8 168.2,237.9 171.1,224.9 173.9,236.4 176.8,248.1 179.6,237.6 182.5,243.7 185.3,239.7 188.2,246.1 191.0,239.9 193.9,227.4 196.7,225.0 199.6,228.8 202.4,230.9 205.3,236.3 208.1,237.4 210.9,247.1 213.8,245.5 216.6,243.9 219.5,243.2 222.3,231.6 225.2,242.9 228.0,257.2 230.9,240.0 233.7,222.4 236.6,239.2 239.4,243.9 242.3,238.6 245.1,239.7 248.0,232.5 250.8,238.5 253.7,230.7 256.5,240.4 259.4,237.2 262.2,239.5 265.1,241.7 267.9,245.8 270.8,234.9 273.6,229.9 276.5,241.5 279.3,253.5 282.1,246.8 285.0,236.7 287.8,242.5 290.7,234.6 293.5,232.1 296.4,236.9 299.2,244.4 302.1,234.4 304.9,251.4 307.8,242.7 310.6,242.3 313.5,247.8 316.3,243.3 319.2,235.4 322.0,251.0 324.9,241.8 327.7,245.6 330.6,231.0 333.4,228.2 336.3,225.5 339.1,222.7 342.0,241.4 344.8,234.5 347.7,239.8 350.5,244.0 353.4,231.1 356.2,230.9 359.0,237.4 361.9,214.2 364.7,227.7 367.6,244.2 370.4,239.8 373.3,243.6 376.1,256.5 379.0,241.2 381.8,239.1 384.7,227.9 387.5,242.2 390.4,242.6 393.2,241.8 396.1,242.3 398.9,227.3 401.8,241.3 404.6,238.0 407.5,240.7 410.3,245.0 413.2,235.0 416.0,237.7 418.9,248.1 421.7,251.9 424.6,241.3 427.4,244.1 430.3,249.1 433.1,245.1 435.9,245.3 438.8,243.1 441.6,247.4 444.5,250.9 447.3,245.6 450.2,236.4 453.0,231.9 455.9,229.5 458.7,237.7 461.6,251.8 464.4,249.9 467.3,241.1 470.1,233.8 473.0,229.9 475.8,235.9 478.7,231.5 481.5,249.1 484.4,256.7 487.2,223.5 490.1,225.9 492.9,241.7 495.8,238.6 498.6,231.0 501.5,224.9 504.3,242.4 507.2,243.1 510.0,246.1"/>
<polyline stroke="#7E2F8E" points="54.3,229.8 57.1,230.4 60.0,229.7 62.8,240.3 65.7,235.2 68.5,242.5 71.4,246.2 74.2,243.0 77.1,225.8 79.9,222.9 82.8,234.5 85.6,231.2 88.5,222.4 91.3,221.4 94.2,236.8 97.0,244.3 99.9,237.5 102.7,231.6 105.6,239.4 108.4,231.8 111.3,219.4 114.1,213.3 117.0,232.6 119.8,243.7 122.7,232.1 125.5,227.2 128.4,238.9 131.2,238.2 134.0,242.7 136.9,246.6 139.7,236.4 142.6,231.6 145.4,214.3 148.3,213.6 151.1,230.2 154.0,230.9 156.8,225.9 159.7,235.6 162.5,228.3 165.4,238.8 168.2,242.9 171.1,231.5 173.9,240.3 176.8,242.6 179.6,231.8 182.5,244.0 185.3,229.8 188.2,235.8 191.0,229.5 193.9,220.4 196.7,221.1 199.6,224.8 202.4,229.3 205.3,232.9 208.1,235.0 210.9,229.3 213.8,227.6 216.6,236.9 219.5,238.5 222.3,234.5 225.2,247.4 228.0,239.6 230.9,225.9 233.7,221.3 236.6,237.5 239.4,231.5 242.3,220.8 245.1,239.8 248.0,241.1 250.8,237.6 253.7,219.3 256.5,232.1 259.4,219.2 262.2,225.2 265.1,232.0 267.9,248.7 270.8,242.0 273.6,225.9 276.5,236.6 279.3,252.2 282.1,248.4 285.0,233.1 287.8,236.5 290.7,228.9 293.5,221.7 296.4,223.5 299.2,223.5 302.1,222.2 304.9,238.7 307.8,225.7 310.6,225.2 313.5,232.6 316.3,241.3 319.2,226.6 322.0,230.1 324.9,229.7 327.7,242.7 330.6,223.3 333.4,220.3 336.3,224.4 339.1,213.8 342.0,226.5 344.8,234.9 347.7,239.4 350.5,242.4 353.4,241.1 356.2,236.7 359.0,241.2 361.9,230.3 364.7,237.2 367.6,229.7 370.4,228.4 373.3,244.9 376.1,250.6 379.0,236.2 381.8,244.7 384.7,226.7 387.5,228.8 390.4,228.7 393.2,236.2 396.1,227.3 398.9,217.5 401.8,226.9 404.6,218.9 407.5,231.5 410.3,234.5 413.2,231.3 416.0,244.9 418.9,250.7 421.7,245.9 424.6,223.4 427.4,231.8 430.3,246.1 433.1,239.5 435.9,240.4 438.8,247.0 441.6,249.3 444.5,234.3 447.3,229.5 450.2,237.2 453.0,223.1 455.9,221.7 458.7,238.1 461.6,247.1 464.4,246.6 467.3,237.6 470.1,223.5 473.0,224.7 475.8,233.1 478.7,224.8 481.5,236.6 484.4,241.1 487.2,229.2 490.1,232.4 492.9,249.2 495.8,248.2 498.6,234.7 501.5,229.5 504.3,250.1 507.2,241.7 510.0,230.4"/>
<polyline stroke="#D95319" points="54.3,222.7 57.1,218.3 60.0,207.7 62.8,206.1 65.7,207.8 68.5,236.6 71.4,240.6 74.2,230.2 77.1,221.3 79.9,219.6 82.8,224.1 85.6,220.3 88.5,217.8 91.3,227.8 94.2,233.6 97.0,232.1 99.9,225.3 102.7,215.4 105.6,224.0 108.4,229.8 111.3,232.0 114.1,219.7 117.0,232.3 119.8,234.2 122.7,214.8 125.5,211.4 128.4,215.9 131.2,222.4 134.0,231.9 136.9,209.2 139.7,202.1 142.6,205.5 145.4,204.3 148.3,204.9 151.1,209.7 154.0,223.8 156.8,228.0 159.7,231.3 162.5,216.3 165.4,234.3 168.2,237.0 171.1,223.0 173.9,223.7 176.8,227.6 179.6,221.7 182.5,235.2 185.3,222.6 188.2,226.5 191.0,211.6 193.9,207.6 196.7,213.5 199.6,209.0 202.4,207.7 205.3,220.1 208.1,222.7 210.9,220.6 213.8,222.8 216.6,223.9 219.5,225.0 222.3,209.4 225.2,220.0 228.0,224.1 230.9,216.0 233.7,197.4 236.6,213.9 239.4,221.8 242.3,231.1 245.1,239.7 248.0,226.3 250.8,230.8 253.7,217.6 256.5,232.7 259.4,229.7 262.2,228.9 265.1,232.9 267.9,225.6 270.8,209.9 273.6,206.7 276.5,217.2 279.3,222.3 282.1,228.0 285.0,220.1 287.8,224.6 290.7,225.9 293.5,217.7 296.4,207.7 299.2,212.8 302.1,204.0 304.9,232.9 307.8,227.3 310.6,222.7 313.5,236.2 316.3,226.8 319.2,219.1 322.0,232.9 324.9,220.2 327.7,230.1 330.6,222.2 333.4,227.9 336.3,221.7 339.1,201.9 342.0,224.4 344.8,222.2 347.7,226.1 350.5,223.7 353.4,223.5 356.2,231.7 359.0,233.5 361.9,211.3 364.7,221.1 367.6,224.8 370.4,226.8 373.3,233.7 376.1,238.7 379.0,221.2 381.8,219.8 384.7,204.0 387.5,224.7 390.4,223.7 393.2,223.8 396.1,219.2 398.9,207.6 401.8,218.6 404.6,217.5 407.5,229.2 410.3,233.5 413.2,215.6 416.0,212.3 418.9,225.6 421.7,232.9 424.6,225.4 427.4,224.8 430.3,225.9 433.1,228.7 435.9,231.3 438.8,225.3 441.6,233.3 444.5,234.0 447.3,221.6 450.2,218.8 453.0,211.8 455.9,206.3 458.7,223.1 461.6,231.6 464.4,223.1 467.3,218.4 470.1,215.5 473.0,211.6 475.8,223.8 478.7,216.6 481.5,221.3 484.4,231.5 487.2,221.2 490.1,213.4 492.9,227.8 495.8,232.6 498.6,220.6 501.5,207.2 504.3,221.3 507.2,221.6 510.0,221.9"/>
<polyline stroke="#D95319" points="54.3,229.4 57.1,224.5 60.0,232.3 62.8,230.1 65.7,220.6 68.5,235.3 71.4,231.3 74.2,223.6 77.1,214.3 79.9,217.1 82.8,233.3 85.6,221.5 88.5,212.8 91.3,215.1 94.2,227.5 97.0,231.9 99.9,226.3 102.7,219.7 105.6,237.6 108.4,245.5 111.3,232.8 114.1,221.5 117.0,239.9 119.8,245.8 122.7,228.3 125.5,227.6 128.4,233.7 131.2,235.4 134.0,239.3 136.9,227.6 139.7,221.4 142.6,216.3 145.4,205.8 148.3,220.9 151.1,225.5 154.0,225.4 156.8,234.3 159.7,235.8 162.5,218.4 165.4,233.3 168.2,243.4 171.1,227.0 173.9,231.4 176.8,246.9 179.6,220.2 182.5,229.4 185.3,219.3 188.2,225.6 191.0,216.7 193.9,203.3 196.7,223.0 199.6,224.9 202.4,212.6 205.3,216.4 208.1,218.4 210.9,216.8 213.8,224.9 216.6,237.3 219.5,237.0 222.3,223.8 225.2,238.3 228.0,244.3 230.9,222.1 233.7,205.2 236.6,228.7 239.4,235.6 242.3,236.1 245.1,254.1 248.0,233.7 250.8,224.8 253.7,211.9 256.5,227.0 259.4,222.3 262.2,218.4 265.1,215.6 267.9,222.0 270.8,219.9 273.6,217.0 276.5,223.8 279.3,237.0 282.1,244.3 285.0,233.2 287.8,228.9 290.7,224.0 293.5,217.7 296.4,221.4 299.2,232.4 302.1,222.3 304.9,235.1 307.8,226.0 310.6,228.2 313.5,241.9 316.3,238.4 319.2,233.9 322.0,242.9 324.9,224.3 327.7,236.1 330.6,226.4 333.4,224.1 336.3,224.5 339.1,215.4 342.0,237.5 344.8,229.6 347.7,227.2 350.5,237.5 353.4,231.9 356.2,223.6 359.0,230.6 361.9,215.7 364.7,228.5 367.6,232.8 370.4,242.2 373.3,246.1 376.1,237.2 379.0,223.1 381.8,233.6 384.7,209.8 387.5,220.4 390.4,222.1 393.2,230.3 396.1,230.4 398.9,208.9 401.8,226.4 404.6,223.1 407.5,225.7 410.3,220.0 413.2,208.5 416.0,229.0 418.9,236.3 421.7,233.1 424.6,221.9 427.4,228.8 430.3,220.2 433.1,216.5 435.9,227.6 438.8,227.5 441.6,231.1 444.5,220.4 447.3,230.9 450.2,236.2 453.0,226.1 455.9,228.8 458.7,238.8 461.6,238.9 464.4,227.9 467.3,224.9 470.1,214.9 473.0,215.8 475.8,234.1 478.7,217.1 481.5,219.9 484.4,223.5 487.2,205.4 490.1,212.6 492.9,229.6 495.8,232.4 498.6,235.1 501.5,226.1 504.3,237.8 507.2,239.6 510.0,233.4"/>
<polyline stroke="#7E2F8E" points="54.3,235.7 57.1,230.0 60.0,228.7 62.8,222.6 65.7,214.4 68.5,232.0 71.4,226.5 74.2,216.2 77.1,217.1 79.9,220.0 82.8,221.1 85.6,222.0 88.5,218.0 91.3,220.9 94.2,222.5 97.0,226.4 99.9,233.1 102.7,224.4 105.6,228.5 108.4,233.8 111.3,230.4 114.1,217.6 117.0,226.0 119.8,240.9 122.7,228.3 125.5,227.1 128.4,233.5 131.2,228.9 134.0,233.2 136.9,222.6 139.7,219.4 142.6,217.5 145.4,208.5 148.3,216.7 151.1,234.9 154.0,229.9 156.8,220.7 159.7,232.6 162.5,235.2 165.4,242.1 168.2,246.1 171.1,236.1 173.9,238.1 176.8,243.5 179.6,227.5 182.5,242.3 185.3,238.5 188.2,248.7 191.0,239.0 193.9,214.5 196.7,213.5 199.6,220.5 202.4,220.2 205.3,215.7 208.1,225.4 210.9,222.9 213.8,223.1 216.6,232.7 219.5,230.9 222.3,216.2 225.2,229.4 228.0,225.3 230.9,216.6 233.7,218.5 236.6,235.6 239.4,235.4 242.3,232.7 245.1,239.1 248.0,222.9 250.8,222.7 253.7,213.5 256.5,229.7 259.4,222.2 262.2,223.2 265.1,232.0 267.9,232.1 270.8,220.8 273.6,213.7 276.5,230.8 279.3,239.2 282.1,241.4 285.0,228.2 287.8,233.1 290.7,225.7 293.5,222.2 296.4,226.5 299.2,226.4 302.1,216.1 304.9,223.8 307.8,211.0 310.6,233.8 313.5,245.7 316.3,232.1 319.2,220.3 322.0,241.3 324.9,227.2 327.7,224.4 330.6,212.1 333.4,210.5 336.3,220.0 339.1,215.3 342.0,231.6 344.8,228.4 347.7,225.8 350.5,218.2 353.4,216.6 356.2,229.8 359.0,232.3 361.9,206.8 364.7,225.8 367.6,223.2 370.4,228.5 373.3,235.8 376.1,236.0 379.0,222.3 381.8,218.6 384.7,211.9 387.5,229.0 390.4,219.5 393.2,231.7 396.1,235.8 398.9,226.5 401.8,239.8 404.6,237.5 407.5,236.3 410.3,225.9 413.2,216.0 416.0,222.4 418.9,235.1 421.7,245.9 424.6,244.0 427.4,231.9 430.3,220.6 433.1,228.9 435.9,239.0 438.8,228.9 441.6,235.4 444.5,238.1 447.3,241.8 450.2,232.2 453.0,213.2 455.9,219.4 458.7,239.4 461.6,246.8 464.4,235.8 467.3,231.0 470.1,219.2 473.0,218.2 475.8,230.2 478.7,215.3 481.5,220.8 484.4,224.5 487.2,213.9 490.1,214.6 492.9,226.6 495.8,233.0 498.6,226.6 501.5,225.1 504.3,236.9 507.2,223.4 510.0,225.9"/>
<polyline stroke="#EDB120" points="54.3,220.2 57.1,218.3 60.0,223.9 62.8,217.6 65.7,224.9 68.5,254.7 71.4,246.1 74.2,229.4 77.1,222.9 79.9,225.9 82.8,239.8 85.6,225.9 88.5,217.7 91.3,224.0 94.2,233.8 97.0,232.6 99.9,229.7 102.7,216.0 105.6,244.0 108.4,244.2 111.3,222.9 114.1,210.9 117.0,227.1 119.8,239.4 122.7,215.3 125.5,223.2 128.4,228.6 131.2,226.1 134.0,237.8 136.9,241.3 139.7,235.1 142.6,221.2 145.4,213.1 148.3,228.9 151.1,232.7 154.0,228.2 156.8,235.5 159.7,239.9 162.5,232.6 165.4,240.2 168.2,249.2 171.1,234.1 173.9,234.8 176.8,245.6 179.6,239.2 182.5,239.9 185.3,222.7 188.2,235.6 191.0,244.1 193.9,230.7 196.7,222.7 199.6,220.3 202.4,234.3 205.3,237.3 208.1,228.4 210.9,225.6 213.8,228.3 216.6,231.5 219.5,246.8 222.3,231.5 225.2,235.0 228.0,246.3 230.9,232.5 233.7,210.6 236.6,225.3 239.4,234.6 242.3,233.2 245.1,244.3 248.0,238.2 250.8,239.9 253.7,227.6 256.5,240.3 259.4,234.5 262.2,234.7 265.1,232.1 267.9,234.2 270.8,222.0 273.6,212.4 276.5,231.1 279.3,246.3 282.1,244.8 285.0,227.7 287.8,219.7 290.7,221.7 293.5,227.9 296.4,225.6 299.2,223.4 302.1,220.5 304.9,240.8 307.8,229.1 310.6,230.1 313.5,245.1 316.3,231.9 319.2,213.5 322.0,234.1 324.9,235.9 327.7,240.4 330.6,228.0 333.4,228.1 336.3,232.1 339.1,217.5 342.0,236.6 344.8,234.7 347.7,228.9 350.5,225.3 353.4,222.9 356.2,232.5 359.0,238.2 361.9,212.7 364.7,228.0 367.6,238.6 370.4,238.3 373.3,243.0 376.1,230.2 379.0,218.4 381.8,223.7 384.7,212.3 387.5,236.3 390.4,231.6 393.2,227.1 396.1,232.8 398.9,221.5 401.8,234.3 404.6,226.9 407.5,229.0 410.3,239.3 413.2,227.4 416.0,239.9 418.9,244.4 421.7,238.7 424.6,227.5 427.4,226.2 430.3,231.3 433.1,232.8 435.9,246.5 438.8,236.5 441.6,230.3 444.5,233.5 447.3,228.8 450.2,225.5 453.0,223.0 455.9,227.7 458.7,237.1 461.6,238.1 464.4,229.5 467.3,236.8 470.1,229.5 473.0,218.9 475.8,223.5 478.7,221.2 481.5,224.9 484.4,225.2 487.2,207.1 490.1,208.0 492.9,228.1 495.8,238.5 498.6,234.7 501.5,227.7 504.3,242.8 507.2,245.0 510.0,244.8"/>
<polyline stroke="#EDB120" points="54.3,227.8 57.1,220.0 60.0,230.6 62.8,232.8 65.7,224.2 68.5,237.3 71.4,229.7 74.2,223.7 77.1,222.0 79.9,219.3 82.8,226.4 85.6,219.1 88.5,217.9 91.3,230.2 94.2,235.4 97.0,231.9 99.9,221.2 102.7,213.9 105.6,225.6 108.4,235.8 111.3,224.3 114.1,207.7 117.0,219.1 119.8,230.6 122.7,221.7 125.5,223.5 128.4,231.9 131.2,228.6 134.0,233.5 136.9,226.9 139.7,226.2 142.6,220.3 145.4,211.9 148.3,214.1 151.1,214.6 154.0,224.6 156.8,228.7 159.7,223.8 162.5,210.8 165.4,226.5 168.2,231.4 171.1,224.4 173.9,226.6 176.8,231.3 179.6,221.2 182.5,228.4 185.3,212.7 188.2,224.2 191.0,224.6 193.9,209.8 196.7,211.2 199.6,223.3 202.4,223.0 205.3,221.8 208.1,217.0 210.9,218.7 213.8,219.6 216.6,224.7 219.5,209.0 222.3,207.1 225.2,234.4 228.0,245.0 230.9,223.0 233.7,197.8 236.6,216.4 239.4,233.6 242.3,235.8 245.1,243.0 248.0,221.1 250.8,224.9 253.7,217.7 256.5,231.4 259.4,226.1 262.2,228.3 265.1,219.5 267.9,226.1 270.8,221.3 273.6,218.4 276.5,228.0 279.3,235.6 282.1,248.2 285.0,237.3 287.8,232.4 290.7,228.2 293.5,219.0 296.4,222.9 299.2,225.3 302.1,210.3 304.9,229.5 307.8,224.6 310.6,223.0 313.5,233.3 316.3,226.1 319.2,212.8 322.0,225.3 324.9,216.1 327.7,224.5 330.6,212.5 333.4,207.3 336.3,216.8 339.1,210.3 342.0,223.9 344.8,225.3 347.7,222.5 350.5,223.3 353.4,226.6 356.2,240.5 359.0,227.8 361.9,202.5 364.7,227.4 367.6,236.2 370.4,233.8 373.3,242.0 376.1,239.8 379.0,225.5 381.8,229.8 384.7,212.5 387.5,234.1 390.4,222.6 393.2,225.2 396.1,224.7 398.9,203.7 401.8,221.6 404.6,220.8 407.5,224.7 410.3,220.7 413.2,210.7 416.0,230.5 418.9,243.5 421.7,238.9 424.6,222.5 427.4,225.6 430.3,225.8 433.1,234.3 435.9,231.9 438.8,217.4 441.6,223.0 444.5,232.9 447.3,224.6 450.2,225.1 453.0,224.1 455.9,229.8 458.7,233.5 461.6,222.1 464.4,219.1 467.3,226.3 470.1,222.6 473.0,222.7 475.8,239.9 478.7,224.9 481.5,225.9 484.4,236.4 487.2,224.9 490.1,218.5 492.9,224.4 495.8,232.3 498.6,222.0 501.5,211.2 504.3,225.9 507.2,222.6 510.0,222.8"/>
<polyline stroke="#EDB120" points="54.3,225.8 57.1,227.0 60.0,221.3 62.8,208.6 65.7,206.4 68.5,224.7 71.4,224.5 74.2,208.8 77.1,201.4 79.9,211.2 82.8,223.6 85.6,213.3 88.5,210.9 91.3,216.2 94.2,219.7 97.0,221.0 99.9,212.7 102.7,216.0 105.6,232.5 108.4,225.9 111.3,209.0 114.1,203.1 117.0,208.9 119.8,221.9 122.7,223.6 125.5,224.2 128.4,227.2 131.2,224.0 134.0,230.5 136.9,221.4 139.7,217.6 142.6,213.7 145.4,200.3 148.3,200.1 151.1,206.6 154.0,211.2 156.8,220.5 159.7,225.5 162.5,218.4 165.4,219.7 168.2,221.7 171.1,209.2 173.9,221.1 176.8,235.2 179.6,229.8 182.5,238.4 185.3,219.5 188.2,230.8 191.0,220.8 193.9,205.4 196.7,213.5 199.6,217.3 202.4,214.5 205.3,217.8 208.1,217.8 210.9,218.1 213.8,219.5 216.6,220.2 219.5,218.2 222.3,211.6 225.2,225.0 228.0,216.4 230.9,200.7 233.7,191.5 236.6,208.8 239.4,221.8 242.3,226.9 245.1,230.9 248.0,209.0 250.8,208.5 253.7,200.4 256.5,216.2 259.4,219.9 262.2,223.9 265.1,226.4 267.9,226.0 270.8,196.1 273.6,195.3 276.5,224.2 279.3,230.9 282.1,226.0 285.0,228.0 287.8,226.2 290.7,218.8 293.5,213.4 296.4,209.0 299.2,216.2 302.1,212.9 304.9,230.1 307.8,220.7 310.6,217.2 313.5,223.9 316.3,217.4 319.2,210.6 322.0,222.6 324.9,210.7 327.7,222.8 330.6,225.3 333.4,225.5 336.3,218.3 339.1,197.3 342.0,220.3 344.8,221.5 347.7,222.5 350.5,217.7 353.4,214.4 356.2,222.4 359.0,214.4 361.9,196.9 364.7,214.0 367.6,212.6 370.4,214.9 373.3,220.8 376.1,224.3 379.0,208.7 381.8,223.4 384.7,212.1 387.5,222.7 390.4,222.2 393.2,216.6 396.1,219.2 398.9,207.7 401.8,219.5 404.6,222.0 407.5,221.0 410.3,213.8 413.2,212.3 416.0,221.9 418.9,229.5 421.7,228.4 424.6,228.9 427.4,230.7 430.3,218.7 433.1,210.9 435.9,231.7 438.8,239.8 441.6,232.3 444.5,218.2 447.3,216.8 450.2,221.5 453.0,214.6 455.9,221.7 458.7,231.5 461.6,230.4 464.4,220.3 467.3,214.3 470.1,208.1 473.0,210.2 475.8,210.2 478.7,198.9 481.5,213.1 484.4,228.4 487.2,222.0 490.1,216.8 492.9,226.0 495.8,222.0 498.6,220.4 501.5,215.6 504.3,236.5 507.2,230.4 510.0,224.7"/>
<polyline stroke="#D95319" points="54.3,211.4 57.1,203.4 60.0,205.2 62.8,202.3 65.7,196.8 68.5,219.5 71.4,222.7 74.2,203.6 77.1,196.0 79.9,188.3 82.8,201.2 85.6,204.3 88.5,194.7 91.3,195.7 94.2,202.1 97.0,203.4 99.9,209.0 102.7,198.7 105.6,210.5 108.4,219.1 111.3,207.9 114.1,186.2 117.0,202.4 119.8,214.2 122.7,202.5 125.5,195.4 128.4,202.9 131.2,204.6 134.0,210.8 136.9,202.7 139.7,197.2 142.6,193.1 145.4,178.4 148.3,190.4 151.1,204.6 154.0,201.1 156.8,204.3 159.7,210.8 162.5,204.3 165.4,216.2 168.2,215.4 171.1,198.0 173.9,204.6 176.8,225.0 179.6,214.0 182.5,223.2 185.3,206.1 188.2,208.5 191.0,210.0 193.9,200.2 196.7,204.5 199.6,204.1 202.4,206.6 205.3,215.3 208.1,207.4 210.9,195.9 213.8,197.9 216.6,207.5 219.5,205.6 222.3,193.4 225.2,214.6 228.0,219.5 230.9,204.5 233.7,190.2 236.6,206.8 239.4,204.5 242.3,206.3 245.1,211.2 248.0,198.4 250.8,204.2 253.7,190.2 256.5,206.7 259.4,202.2 262.2,201.0 265.1,198.7 267.9,209.0 270.8,198.5 273.6,179.4 276.5,196.2 279.3,213.9 282.1,213.1 285.0,211.2 287.8,213.5 290.7,209.9 293.5,202.2 296.4,195.9 299.2,201.5 302.1,183.1 304.9,211.0 307.8,208.2 310.6,204.2 313.5,214.6 316.3,211.2 319.2,203.7 322.0,210.9 324.9,192.1 327.7,209.1 330.6,205.6 333.4,208.1 336.3,201.3 339.1,193.7 342.0,218.9 344.8,208.8 347.7,200.6 350.5,201.6 353.4,200.4 356.2,211.6 359.0,210.4 361.9,183.7 364.7,197.2 367.6,196.4 370.4,205.9 373.3,214.2 376.1,217.8 379.0,191.3 381.8,195.4 384.7,181.0 387.5,200.9 390.4,199.5 393.2,204.5 396.1,211.0 398.9,198.9 401.8,209.8 404.6,204.6 407.5,203.6 410.3,194.0 413.2,185.6 416.0,203.0 418.9,217.6 421.7,218.1 424.6,205.7 427.4,203.4 430.3,201.5 433.1,204.7 435.9,215.2 438.8,212.5 441.6,211.3 444.5,207.9 447.3,209.5 450.2,206.7 453.0,197.2 455.9,201.5 458.7,220.0 461.6,217.0 464.4,208.4 467.3,205.2 470.1,197.9 473.0,197.5 475.8,203.8 478.7,192.3 481.5,214.3 484.4,216.8 487.2,188.8 490.1,186.0 492.9,202.0 495.8,214.6 498.6,200.9 501.5,193.0 504.3,213.2 507.2,206.3 510.0,209.7"/>
<polyline stroke="#D95319" points="54.3,196.2 57.1,190.5 60.0,196.9 62.8,186.8 65.7,170.7 68.5,196.0 71.4,204.2 74.2,189.4 77.1,186.8 79.9,192.3 82.8,206.9 85.6,196.2 88.5,184.2 91.3,182.5 94.2,190.4 97.0,195.0 99.9,197.7 102.7,188.7 105.6,202.9 108.4,212.5 111.3,199.8 114.1,176.9 117.0,193.1 119.8,209.1 122.7,195.2 125.5,190.6 128.4,196.4 131.2,194.4 134.0,201.0 136.9,192.8 139.7,186.5 142.6,183.3 145.4,173.8 148.3,185.4 151.1,200.9 154.0,192.6 156.8,199.2 159.7,209.4 162.5,193.9 165.4,206.1 168.2,201.6 171.1,185.3 173.9,188.5 176.8,198.0 179.6,193.6 182.5,208.1 185.3,190.5 188.2,201.0 191.0,194.9 193.9,169.0 196.7,177.2 199.6,181.4 202.4,179.9 205.3,193.3 208.1,191.7 210.9,190.4 213.8,194.6 216.6,209.2 219.5,198.8 222.3,177.5 225.2,198.8 228.0,216.3 230.9,196.9 233.7,172.6 236.6,190.2 239.4,188.7 242.3,189.9 245.1,205.8 248.0,193.5 250.8,197.6 253.7,178.5 256.5,194.3 259.4,192.9 262.2,190.8 265.1,184.9 267.9,197.4 270.8,183.4 273.6,168.5 276.5,183.1 279.3,206.1 282.1,211.2 285.0,199.7 287.8,195.2 290.7,182.9 293.5,182.7 296.4,192.9 299.2,194.0 302.1,174.8 304.9,201.0 307.8,191.7 310.6,190.7 313.5,200.1 316.3,190.6 319.2,186.1 322.0,199.9 324.9,182.6 327.7,197.8 330.6,188.7 333.4,187.5 336.3,189.3 339.1,172.5 342.0,202.8 344.8,196.0 347.7,186.9 350.5,189.3 353.4,194.5 356.2,206.6 359.0,210.7 361.9,172.8 364.7,181.6 367.6,196.9 370.4,201.0 373.3,197.3 376.1,200.0 379.0,180.4 381.8,196.4 384.7,184.3 387.5,201.8 390.4,191.1 393.2,192.9 396.1,200.9 398.9,183.6 401.8,191.7 404.6,180.4 407.5,194.3 410.3,198.2 413.2,188.7 416.0,200.1 418.9,201.4 421.7,202.3 424.6,197.7 427.4,203.0 430.3,203.3 433.1,205.2 435.9,211.1 438.8,200.2 441.6,200.2 444.5,198.3 447.3,193.8 450.2,194.6 453.0,181.9 455.9,193.9 458.7,207.6 461.6,212.9 464.4,203.3 467.3,192.1 470.1,181.6 473.0,182.1 475.8,193.9 478.7,185.3 481.5,198.7 484.4,207.6 487.2,178.0 490.1,176.2 492.9,197.4 495.8,207.5 498.6,203.2 501.5,193.6 504.3,214.8 507.2,207.5 510.0,195.3"/>
<polyline stroke="#0072BD" points="54.3,180.3 57.1,181.1 60.0,183.8 62.8,177.6 65.7,175.4 68.5,187.3 71.4,197.1 74.2,182.0 77.1,171.4 79.9,180.3 82.8,194.9 85.6,180.3 88.5,173.2 91.3,178.9 94.2,183.4 97.0,193.5 99.9,182.0 102.7,168.7 105.6,205.1 108.4,193.5 111.3,173.2 114.1,161.6 117.0,180.3 119.8,191.8 122.7,178.9 125.5,173.2 128.4,183.4 131.2,183.8 134.0,192.2 136.9,171.8 139.7,176.3 142.6,167.9 145.4,152.8 148.3,168.7 151.1,179.4 154.0,180.7 156.8,182.0 159.7,184.7 162.5,183.8 165.4,192.2 168.2,189.1 171.1,177.6 173.9,186.5 176.8,193.5 179.6,183.8 182.5,193.5 185.3,167.9 188.2,177.6 191.0,184.7 193.9,168.7 196.7,171.8 199.6,173.2 202.4,179.4 205.3,185.6 208.1,180.7 210.9,181.1 213.8,179.4 216.6,193.5 219.5,179.4 222.3,159.0 225.2,180.7 228.0,201.1 230.9,179.4 233.7,157.2 236.6,179.4 239.4,182.0 242.3,183.4 245.1,198.0 248.0,183.4 250.8,177.6 253.7,163.4 256.5,180.7 259.4,174.9 262.2,179.4 265.1,180.7 267.9,183.4 270.8,166.1 273.6,157.2 276.5,174.9 279.3,190.9 282.1,191.3 285.0,184.7 287.8,183.8 290.7,168.7 293.5,163.4 296.4,173.2 299.2,174.9 302.1,159.0 304.9,187.8 307.8,179.4 310.6,180.7 313.5,192.2 316.3,182.0 319.2,174.9 322.0,187.8 324.9,177.6 327.7,186.5 330.6,176.3 333.4,174.9 336.3,177.6 339.1,151.5 342.0,186.5 344.8,179.4 347.7,177.6 350.5,182.0 353.4,183.4 356.2,186.5 359.0,191.8 361.9,159.0 364.7,180.7 367.6,183.4 370.4,186.5 373.3,193.5 376.1,193.5 379.0,173.2 381.8,179.4 384.7,161.6 387.5,184.7 390.4,183.4 393.2,182.0 396.1,179.4 398.9,166.1 401.8,184.7 404.6,179.4 407.5,177.6 410.3,176.3 413.2,180.7 416.0,186.5 418.9,186.5 421.7,187.8 424.6,186.5 427.4,173.2 430.3,174.9 433.1,183.4 435.9,199.7 438.8,188.2 441.6,185.6 444.5,183.8 447.3,181.1 450.2,178.0 453.0,167.0 455.9,175.4 458.7,196.2 461.6,199.3 464.4,186.5 467.3,176.7 470.1,161.6 473.0,159.9 475.8,174.1 478.7,171.4 481.5,189.6 484.4,196.2 487.2,168.7 490.1,171.4 492.9,186.5 495.8,198.0 498.6,189.6 501.5,175.4 504.3,196.2 507.2,189.6 510.0,188.2"/>
<polyline stroke="#4DBEEE" points="54.3,166.8 57.1,162.1 60.0,164.4 62.8,156.4 65.7,147.1 68.5,175.2 71.4,178.8 74.2,167.2 77.1,156.4 79.9,150.8 82.8,165.4 85.6,157.7 88.5,146.9 91.3,157.9 94.2,159.5 97.0,157.6 99.9,160.6 102.7,153.0 105.6,173.7 108.4,179.9 111.3,167.1 114.1,138.3 117.0,155.7 119.8,177.2 122.7,163.5 125.5,155.1 128.4,165.9 131.2,166.9 134.0,167.8 136.9,156.6 139.7,156.0 142.6,147.1 145.4,125.4 148.3,143.8 151.1,162.7 154.0,158.5 156.8,162.8 159.7,171.0 162.5,160.7 165.4,176.5 168.2,178.0 171.1,157.3 173.9,165.0 176.8,178.0 179.6,167.0 182.5,183.8 185.3,159.8 188.2,169.7 191.0,160.8 193.9,136.1 196.7,146.3 199.6,154.1 202.4,157.1 205.3,161.4 208.1,158.3 210.9,158.1 213.8,167.0 216.6,170.0 219.5,158.0 222.3,144.1 225.2,171.0 228.0,180.8 230.9,158.3 233.7,133.9 236.6,159.8 239.4,167.4 242.3,171.4 245.1,179.9 248.0,160.2 250.8,167.5 253.7,143.2 256.5,167.9 259.4,160.2 262.2,159.4 265.1,162.5 267.9,170.2 270.8,148.1 273.6,139.1 276.5,162.3 279.3,174.6 282.1,176.7 285.0,165.6 287.8,165.0 290.7,155.4 293.5,147.9 296.4,150.1 299.2,153.3 302.1,135.4 304.9,166.1 307.8,156.7 310.6,158.4 313.5,170.8 316.3,163.2 319.2,154.8 322.0,170.5 324.9,148.9 327.7,170.6 330.6,158.4 333.4,154.9 336.3,154.8 339.1,137.4 342.0,172.0 344.8,166.9 347.7,157.3 350.5,162.3 353.4,158.4 356.2,166.0 359.0,174.9 361.9,137.2 364.7,154.8 367.6,161.6 370.4,169.2 373.3,174.6 376.1,180.0 379.0,152.1 381.8,160.8 384.7,140.2 387.5,163.5 390.4,155.1 393.2,156.0 396.1,155.7 398.9,134.4 401.8,161.7 404.6,153.3 407.5,153.8 410.3,153.9 413.2,145.2 416.0,160.5 418.9,171.4 421.7,170.2 424.6,160.1 427.4,163.9 430.3,162.1 433.1,165.2 435.9,183.5 438.8,173.2 441.6,169.9 444.5,161.6 447.3,158.2 450.2,155.9 453.0,146.5 455.9,152.4 458.7,176.0 461.6,181.2 464.4,173.3 467.3,169.2 470.1,149.9 473.0,146.7 475.8,155.1 478.7,138.2 481.5,166.3 484.4,182.0 487.2,147.0 490.1,145.3 492.9,167.7 495.8,180.7 498.6,169.0 501.5,151.1 504.3,177.0 507.2,168.0 510.0,164.8"/>
<polyline stroke="#EDB120" points="54.3,156.8 57.1,152.0 60.0,156.7 62.8,147.3 65.7,133.4 68.5,166.4 71.4,175.6 74.2,163.7 77.1,152.0 79.9,146.8 82.8,159.2 85.6,151.2 88.5,143.4 91.3,150.6 94.2,149.9 97.0,153.5 99.9,158.7 102.7,148.2 105.6,165.7 108.4,175.5 111.3,160.2 114.1,134.7 117.0,151.7 119.8,173.5 122.7,159.9 125.5,156.1 128.4,161.9 131.2,162.8 134.0,171.0 136.9,148.3 139.7,140.9 142.6,140.3 145.4,120.9 148.3,141.2 151.1,159.6 154.0,155.5 156.8,166.4 159.7,174.5 162.5,141.3 165.4,177.5 168.2,173.2 171.1,144.7 173.9,154.2 176.8,170.7 179.6,159.3 182.5,179.2 185.3,152.9 188.2,166.6 191.0,160.9 193.9,138.0 196.7,145.4 199.6,152.0 202.4,152.0 205.3,160.6 208.1,158.5 210.9,145.7 213.8,164.1 216.6,166.4 219.5,154.3 222.3,134.5 225.2,162.0 228.0,173.5 230.9,147.6 233.7,123.9 236.6,152.7 239.4,160.5 242.3,161.8 245.1,177.2 248.0,155.3 250.8,154.4 253.7,135.7 256.5,162.9 259.4,143.0 262.2,150.9 265.1,156.1 267.9,164.2 270.8,144.7 273.6,116.5 276.5,150.6 279.3,167.1 282.1,171.7 285.0,153.9 287.8,153.4 290.7,147.8 293.5,136.1 296.4,143.8 299.2,149.5 302.1,132.6 304.9,160.0 307.8,149.5 310.6,146.6 313.5,157.8 316.3,151.4 319.2,145.1 322.0,165.9 324.9,144.8 327.7,163.9 330.6,133.3 333.4,152.9 336.3,147.1 339.1,126.8 342.0,165.1 344.8,161.4 347.7,151.6 350.5,138.6 353.4,148.8 356.2,160.6 359.0,169.0 361.9,131.3 364.7,156.0 367.6,156.9 370.4,159.2 373.3,165.0 376.1,168.6 379.0,143.3 381.8,155.3 384.7,135.3 387.5,160.8 390.4,154.6 393.2,155.0 396.1,157.5 398.9,137.1 401.8,158.5 404.6,148.2 407.5,153.0 410.3,149.2 413.2,136.4 416.0,155.1 418.9,166.8 421.7,164.2 424.6,152.1 427.4,157.9 430.3,158.9 433.1,164.8 435.9,182.2 438.8,165.5 441.6,165.1 444.5,162.5 447.3,160.0 450.2,153.2 453.0,139.3 455.9,144.9 458.7,169.7 461.6,179.3 464.4,167.3 467.3,162.5 470.1,148.7 473.0,145.2 475.8,154.8 478.7,140.0 481.5,162.6 484.4,169.9 487.2,137.4 490.1,140.0 492.9,162.0 495.8,175.0 498.6,166.0 501.5,140.4 504.3,174.3 507.2,161.9 510.0,160.6"/>
<polyline stroke="#77AC30" points="54.3,156.6 57.1,150.6 60.0,153.4 62.8,147.9 65.7,139.7 68.5,167.0 71.4,170.7 74.2,156.5 77.1,145.1 79.9,146.8 82.8,161.4 85.6,151.4 88.5,143.7 91.3,145.3 94.2,148.1 97.0,157.9 99.9,162.6 102.7,148.8 105.6,165.6 108.4,171.9 111.3,158.6 114.1,132.7 117.0,150.1 119.8,168.7 122.7,155.1 125.5,152.4 128.4,162.2 131.2,158.4 134.0,166.4 136.9,134.2 139.7,145.3 142.6,140.6 145.4,119.3 148.3,139.0 151.1,165.1 154.0,158.8 156.8,158.8 159.7,166.9 162.5,158.3 165.4,176.1 168.2,180.1 171.1,153.6 173.9,154.4 176.8,169.5 179.6,158.4 182.5,180.5 185.3,151.4 188.2,159.0 191.0,142.2 193.9,134.3 196.7,142.3 199.6,147.5 202.4,145.7 205.3,152.8 208.1,151.6 210.9,152.2 213.8,159.5 216.6,165.6 219.5,156.5 222.3,130.3 225.2,157.2 228.0,169.7 230.9,147.2 233.7,121.4 236.6,150.8 239.4,161.1 242.3,163.7 245.1,174.8 248.0,151.5 250.8,154.1 253.7,136.2 256.5,162.5 259.4,154.2 262.2,150.1 265.1,155.8 267.9,160.9 270.8,137.3 273.6,128.3 276.5,154.2 279.3,172.5 282.1,175.7 285.0,161.5 287.8,143.0 290.7,148.8 293.5,126.2 296.4,142.6 299.2,149.4 302.1,114.7 304.9,163.8 307.8,143.4 310.6,149.2 313.5,165.8 316.3,147.0 319.2,142.2 322.0,168.1 324.9,130.6 327.7,161.1 330.6,145.5 333.4,138.6 336.3,148.2 339.1,132.8 342.0,170.9 344.8,161.4 347.7,157.1 350.5,160.6 353.4,152.6 356.2,162.1 359.0,164.8 361.9,113.8 364.7,153.1 367.6,160.9 370.4,165.2 373.3,170.4 376.1,174.4 379.0,140.4 381.8,158.9 384.7,134.9 387.5,161.2 390.4,149.7 393.2,150.9 396.1,159.3 398.9,133.3 401.8,153.5 404.6,142.2 407.5,149.1 410.3,145.8 413.2,135.8 416.0,155.8 418.9,169.6 421.7,174.5 424.6,145.7 427.4,155.9 430.3,159.1 433.1,164.8 435.9,181.5 438.8,164.8 441.6,161.7 444.5,164.5 447.3,159.5 450.2,141.3 453.0,135.6 455.9,148.2 458.7,173.3 461.6,176.9 464.4,164.2 467.3,157.5 470.1,133.3 473.0,144.8 475.8,153.6 478.7,131.4 481.5,158.1 484.4,167.9 487.2,130.9 490.1,132.1 492.9,164.2 495.8,176.7 498.6,161.5 501.5,144.5 504.3,171.1 507.2,162.8 510.0,160.7"/>
<polyline stroke="#7E2F8E" points="54.3,161.4 57.1,150.3 60.0,152.9 62.8,151.2 65.7,136.8 68.5,172.3 71.4,168.2 74.2,155.7 77.1,151.4 79.9,147.9 82.8,158.0 85.6,150.8 88.5,139.0 91.3,145.4 94.2,151.8 97.0,159.4 99.9,159.1 102.7,144.4 105.6,164.1 108.4,175.6 111.3,163.7 114.1,132.8 117.0,149.6 119.8,170.3 122.7,156.6 125.5,147.0 128.4,156.0 131.2,156.5 134.0,162.7 136.9,148.1 139.7,148.3 142.6,145.7 145.4,124.0 148.3,138.7 151.1,161.1 154.0,155.4 156.8,156.0 159.7,165.2 162.5,152.5 165.4,172.7 168.2,172.2 171.1,148.4 173.9,155.4 176.8,174.2 179.6,160.8 182.5,175.1 185.3,147.9 188.2,162.0 191.0,156.0 193.9,134.4 196.7,144.6 199.6,150.0 202.4,154.5 205.3,163.2 208.1,157.3 210.9,153.9 213.8,161.2 216.6,166.0 219.5,155.5 222.3,131.5 225.2,161.2 228.0,171.4 230.9,147.0 233.7,124.8 236.6,158.0 239.4,160.9 242.3,159.1 245.1,170.5 248.0,144.6 250.8,152.6 253.7,134.8 256.5,158.0 259.4,150.7 262.2,150.2 265.1,145.7 267.9,163.0 270.8,144.2 273.6,131.5 276.5,158.8 279.3,166.8 282.1,169.1 285.0,160.4 287.8,163.5 290.7,157.1 293.5,141.5 296.4,143.5 299.2,156.3 302.1,137.1 304.9,166.2 307.8,147.5 310.6,150.4 313.5,162.2 316.3,154.2 319.2,143.9 322.0,161.8 324.9,138.8 327.7,165.9 330.6,152.7 333.4,150.3 336.3,148.5 339.1,124.4 342.0,163.7 344.8,154.0 347.7,146.6 350.5,157.8 353.4,150.4 356.2,161.0 359.0,163.5 361.9,126.7 364.7,149.6 367.6,156.6 370.4,164.8 373.3,168.4 376.1,170.4 379.0,143.6 381.8,153.5 384.7,132.8 387.5,163.4 390.4,151.3 393.2,152.6 396.1,157.1 398.9,133.5 401.8,155.7 404.6,148.1 407.5,150.0 410.3,148.8 413.2,137.5 416.0,151.1 418.9,166.0 421.7,166.6 424.6,153.9 427.4,159.3 430.3,158.9 433.1,162.4 435.9,175.8 438.8,165.8 441.6,165.0 444.5,163.0 447.3,156.1 450.2,152.0 453.0,135.8 455.9,142.3 458.7,168.8 461.6,171.6 464.4,162.7 467.3,155.9 470.1,141.7 473.0,139.7 475.8,150.8 478.7,133.1 481.5,159.4 484.4,175.0 487.2,137.0 490.1,138.3 492.9,164.0 495.8,173.5 498.6,163.0 501.5,145.5 504.3,177.9 507.2,167.0 510.0,160.8"/>
<polyline stroke="#A2142F" points="54.3,161.6 57.1,153.7 60.0,156.3 62.8,151.0 65.7,141.3 68.5,172.3 71.4,174.1 74.2,159.9 77.1,150.1 79.9,147.5 82.8,161.6 85.6,152.8 88.5,143.0 91.3,151.0 94.2,155.4 97.0,159.0 99.9,159.9 102.7,147.5 105.6,166.1 108.4,174.9 111.3,161.6 114.1,133.3 117.0,154.6 119.8,175.8 122.7,159.9 125.5,152.8 128.4,162.5 131.2,161.6 134.0,166.1 136.9,152.8 139.7,151.0 142.6,143.0 145.4,123.5 148.3,140.4 151.1,159.9 154.0,156.3 156.8,159.9 159.7,167.9 162.5,158.1 165.4,175.8 168.2,174.9 171.1,151.0 173.9,158.1 176.8,173.2 179.6,159.9 182.5,177.6 185.3,151.9 188.2,166.1 191.0,159.9 193.9,135.1 196.7,144.8 199.6,150.1 202.4,151.0 205.3,159.9 208.1,155.4 210.9,151.9 213.8,159.9 216.6,167.9 219.5,158.1 222.3,136.8 225.2,165.2 228.0,177.6 230.9,152.8 233.7,127.1 236.6,154.6 239.4,161.6 242.3,164.3 245.1,177.6 248.0,154.6 250.8,156.3 253.7,135.1 256.5,161.6 259.4,152.8 262.2,151.0 265.1,152.8 267.9,161.6 270.8,143.0 273.6,131.5 276.5,154.6 279.3,169.6 282.1,173.2 285.0,161.6 287.8,159.9 290.7,152.8 293.5,143.0 296.4,148.4 299.2,154.6 302.1,133.3 304.9,164.3 307.8,152.8 310.6,152.8 313.5,166.1 316.3,156.3 319.2,147.5 322.0,167.9 324.9,144.8 327.7,164.3 330.6,152.8 333.4,151.0 336.3,150.1 339.1,130.6 342.0,167.9 344.8,159.9 347.7,152.8 350.5,156.3 353.4,151.0 356.2,163.4 359.0,167.9 361.9,128.9 364.7,152.8 367.6,158.1 370.4,164.3 373.3,171.4 376.1,174.1 379.0,146.6 381.8,156.3 384.7,135.1 387.5,164.3 390.4,154.6 393.2,156.3 396.1,159.9 398.9,136.8 401.8,158.1 404.6,149.2 407.5,151.0 410.3,150.1 413.2,138.6 416.0,154.6 418.9,169.6 421.7,169.6 424.6,156.3 427.4,161.6 430.3,161.6 433.1,163.4 435.9,177.6 438.8,164.3 441.6,164.3 444.5,161.6 447.3,158.1 450.2,152.8 453.0,140.4 455.9,148.4 458.7,174.1 461.6,177.6 464.4,166.1 467.3,159.9 470.1,144.8 473.0,144.8 475.8,156.3 478.7,136.8 481.5,159.9 484.4,174.1 487.2,136.8 490.1,135.1 492.9,161.6 495.8,173.2 498.6,164.3 501.5,148.4 504.3,175.8 507.2,166.1 510.0,163.4"/>
</g>
<g stroke="#7a7a7a" stroke-width="1.2" fill="none">
<rect x="54.3" y="12.8" width="455.7" height="354.4"/>
<line x1="54.30" y1="367.20" x2="54.30" y2="362.70"/>
<line x1="54.30" y1="12.80" x2="54.30" y2="17.30"/>
<line x1="111.26" y1="367.20" x2="111.26" y2="362.70"/>
<line x1="111.26" y1="12.80" x2="111.26" y2="17.30"/>
<line x1="168.22" y1="367.20" x2="168.22" y2="362.70"/>
<line x1="168.22" y1="12.80" x2="168.22" y2="17.30"/>
<line x1="225.19" y1="367.20" x2="225.19" y2="362.70"/>
<line x1="225.19" y1="12.80" x2="225.19" y2="17.30"/>
<line x1="282.15" y1="367.20" x2="282.15" y2="362.70"/>
<line x1="282.15" y1="12.80" x2="282.15" y2="17.30"/>
<line x1="339.11" y1="367.20" x2="339.11" y2="362.70"/>
<line x1="339.11" y1="12.80" x2="339.11" y2="17.30"/>
<line x1="396.07" y1="367.20" x2="396.07" y2="362.70"/>
<line x1="396.07" y1="12.80" x2="396.07" y2="17.30"/>
<line x1="453.04" y1="367.20" x2="453.04" y2="362.70"/>
<line x1="453.04" y1="12.80" x2="453.04" y2="17.30"/>
<line x1="510.00" y1="367.20" x2="510.00" y2="362.70"/>
<line x1="510.00" y1="12.80" x2="510.00" y2="17.30"/>
<line x1="54.30" y1="367.20" x2="58.80" y2="367.20"/>
<line x1="510.00" y1="367.20" x2="505.50" y2="367.20"/>
<line x1="54.30" y1="322.90" x2="58.80" y2="322.90"/>
<line x1="510.00" y1="322.90" x2="505.50" y2="322.90"/>
<line x1="54.30" y1="278.60" x2="58.80" y2="278.60"/>
<line x1="510.00" y1="278.60" x2="505.50" y2="278.60"/>
<line x1="54.30" y1="234.30" x2="58.80" y2="234.30"/>
<line x1="510.00" y1="234.30" x2="505.50" y2="234.30"/>
<line x1="54.30" y1="190.00" x2="58.80" y2="190.00"/>
<line x1="510.00" y1="190.00" x2="505.50" y2="190.00"/>
<line x1="54.30" y1="145.70" x2="58.80" y2="145.70"/>
<line x1="510.00" y1="145.70" x2="505.50" y2="145.70"/>
<line x1="54.30" y1="101.40" x2="58.80" y2="101.40"/>
<line x1="510.00" y1="101.40" x2="505.50" y2="101.40"/>
<line x1="54.30" y1="57.10" x2="58.80" y2="57.10"/>
<line x1="510.00" y1="57.10" x2="505.50" y2="57.10"/>
<line x1="54.30" y1="12.80" x2="58.80" y2="12.80"/>
<line x1="510.00" y1="12.80" x2="505.50" y2="12.80"/>
</g>
<g font-size="17">
<text x="54.30" y="391.7" text-anchor="middle">0</text>
<text x="111.26" y="391.7" text-anchor="middle">20</text>
<text x="168.22" y="391.7" text-anchor="middle">40</text>
<text x="225.19" y="391.7" text-anchor="middle">60</text>
<text x="282.15" y="391.7" text-anchor="middle">80</text>
<text x="339.11" y="391.7" text-anchor="middle">100</text>
<text x="396.07" y="391.7" text-anchor="middle">120</text>
<text x="453.04" y="391.7" text-anchor="middle">140</text>
<text x="510.00" y="391.7" text-anchor="middle">160</text>
<text x="48.6" y="373.70" text-anchor="end">0</text>
<text x="48.6" y="329.40" text-anchor="end">5</text>
<text x="48.6" y="285.10" text-anchor="end">10</text>
<text x="48.6" y="240.80" text-anchor="end">15</text>
<text x="48.6" y="196.50" text-anchor="end">20</text>
<text x="48.6" y="152.20" text-anchor="end">25</text>
<text x="48.6" y="107.90" text-anchor="end">30</text>
<text x="48.6" y="63.60" text-anchor="end">35</text>
<text x="48.6" y="19.30" text-anchor="end">40</text>
</g>
<text x="282.65" y="415.6" font-size="18.5" text-anchor="middle">Number of received packets at antenna a of reference point(0,1)</text>
<text transform="translate(21.1,190.3) rotate(-90)" x="0" y="0" font-size="18.15" text-anchor="middle">Amplitude value</text>
<rect x="96.8" y="29.6" width="371.4" height="82.4" fill="#fff" stroke="#6a6a6a" stroke-width="1"/>
<line x1="96.8" y1="52.5" x2="468.2" y2="52.5" stroke="#6a6a6a" stroke-width="1"/>
<text x="282.5" y="46.5" font-size="15.1" font-weight="bold" text-anchor="middle" style="fill:#000;stroke:#000">30 original subcarrier measurements (IT1 building)</text>
<line x1="200.8" y1="63.6" x2="241.7" y2="63.6" stroke="#0072BD" stroke-width="2.4"/>
<text x="245.8" y="69.8" font-size="15.0" style="fill:#000;stroke:#000">CSI subcarrier 1</text>
<line x1="200.8" y1="83.0" x2="241.7" y2="83.0" stroke="#D95319" stroke-width="2.4"/>
<text x="245.8" y="89.4" font-size="15.0" style="fill:#000;stroke:#000">...</text>
<line x1="200.8" y1="102.4" x2="241.7" y2="102.4" stroke="#EDB120" stroke-width="2.4"/>
<text x="245.8" y="109.2" font-size="15.0" style="fill:#000;stroke:#000">CSI subcarrier 30</text>
</svg></body></html>
